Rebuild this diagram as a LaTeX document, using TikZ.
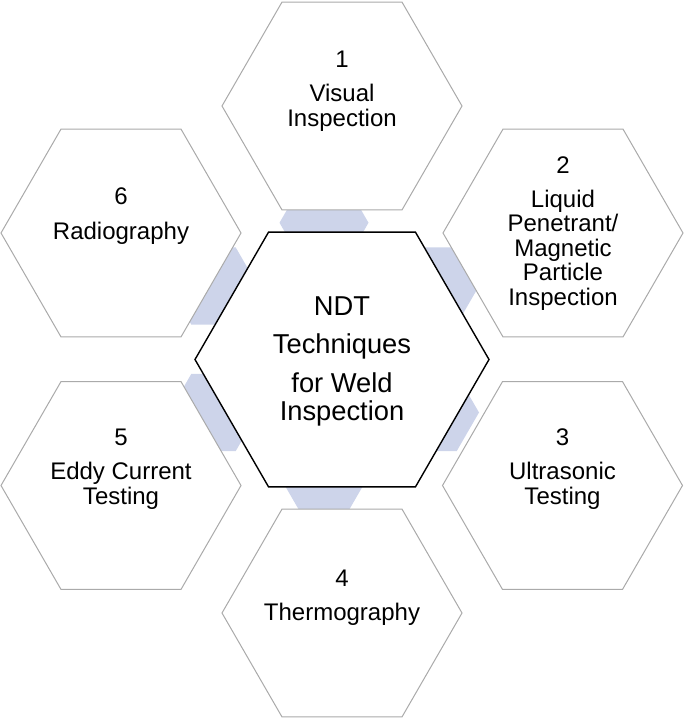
\documentclass[tikz,border=0pt]{standalone}
\usepackage{fontspec}
\setmainfont{Liberation Sans}
\usetikzlibrary{shapes.geometric}
\definecolor{hexline}{RGB}{170,170,170}
\definecolor{linkfill}{RGB}{205,212,234}
\begin{document}
\begin{tikzpicture}[x=1pt,y=-1pt,
  hexbase/.style={regular polygon, regular polygon sides=6, inner sep=0pt, outer sep=0pt},
  outerhex/.style={hexbase, minimum size=240pt, draw=hexline, line width=1pt, fill=white},
  centerhex/.style={hexbase, minimum size=294pt, draw=black, line width=1.4pt, fill=white},
  linkhex/.style={hexbase, minimum size=89pt, fill=linkfill},
  outertext/.style={align=center, anchor=base, inner sep=0pt, font=\fontsize{24}{24.5}\selectfont},
  centertext/.style={align=center, anchor=base, inner sep=0pt, font=\fontsize{27.3}{27.3}\selectfont}]
\useasboundingbox (0,0) rectangle (685,718);
% connector hexagons (behind)
\node[linkhex] (k1) at (324,222.75) {};
\node[linkhex] (k2) at (434.5,286) {};
\node[linkhex] (k3) at (434.5,412.5) {};
\node[linkhex] (k4) at (324,476.25) {};
\node[linkhex] (k5) at (213.5,412.5) {};
\node[linkhex] (k6) at (213.5,286) {};
% outer hexagons
\node[outerhex] (h1) at (342,106) {};
\node[outerhex] (h2) at (563,233) {};
\node[outerhex] (h3) at (562.5,485.5) {};
\node[outerhex] (h4) at (342,613) {};
\node[outerhex] (h5) at (121,485.5) {};
\node[outerhex] (h6) at (121,233) {};
% central hexagon
\node[centerhex] (hc) at (342,359.5) {};
% texts (anchored at the baseline of the last line)
\node[outertext] (t1) at (342,126) {1\\[10pt]Visual\\Inspection};
\node[outertext] (t2) at (563,305) {2\\[9pt]Liquid\\Penetrant/\\Magnetic\\Particle\\Inspection};
\node[outertext] (t3) at (562.5,504) {3\\[10pt]Ultrasonic\\Testing};
\node[outertext] (t4) at (342,620) {4\\[9pt]Thermography};
\node[outertext] (t5) at (121,504.3) {5\\[10pt]Eddy Current\\Testing};
\node[outertext] (t6) at (121,239.3) {6\\[10pt]Radiography};
\node[centertext] (tc) at (342,420) {NDT\\[10.7pt]Techniques\\[12.4pt]for Weld\\Inspection};
\end{tikzpicture}
\end{document}
